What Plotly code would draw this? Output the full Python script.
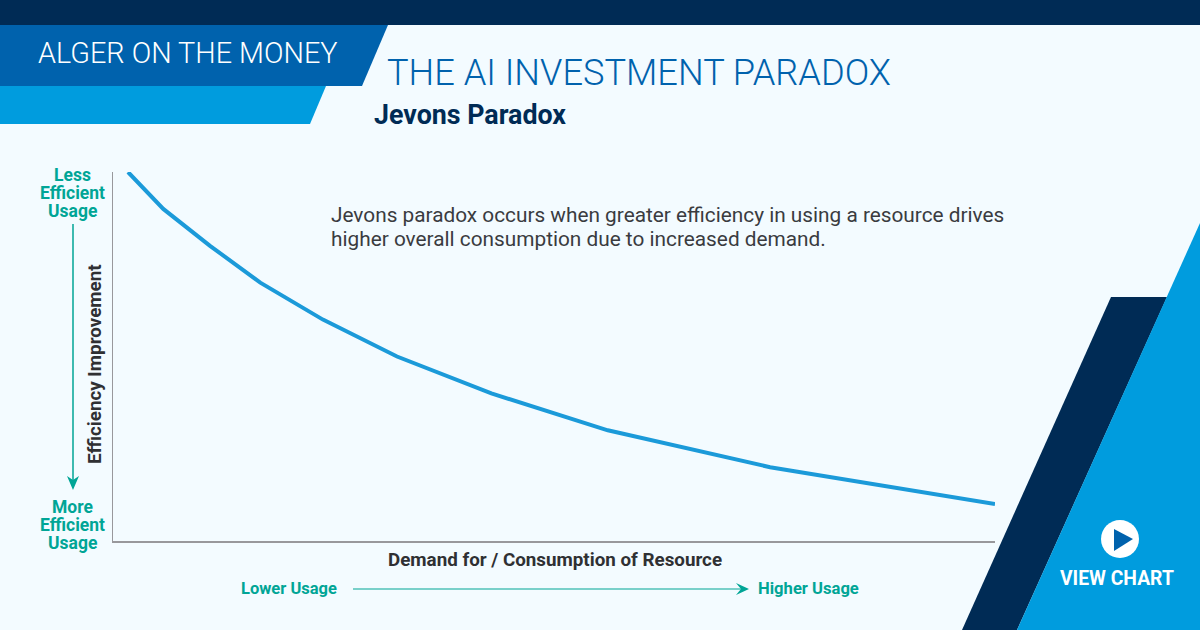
import plotly.graph_objects as go

# Dados da curva (demanda x melhora de eficiencia)
demanda = [1.7, 5.7, 11, 16.7, 23.8, 32.2, 42.9, 56.1, 74.5, 100]
eficiencia = [100, 90, 80, 70, 60, 50, 40, 30, 20, 10]

# Textos
selo = 'ALGER ON THE MONEY'
titulo = 'THE AI INVESTMENT PARADOX'
subtitulo = 'Jevons Paradox'
nota = ['Jevons paradox occurs when greater efficiency in using a resource drives',
        'higher overall consumption due to increased demand.']
topo_y = ['Less', 'Efficient', 'Usage']
base_y = ['More', 'Efficient', 'Usage']

W, H = 1200, 630
NAVY = '#002B55'
AZUL = '#0062AD'
CIANO = '#009CDE'
VERDE = '#00A596'
CINZA = '#98989C'
TEXTO = '#2F3033'
FUNDO = '#F3FBFF'


def px(x):
    return x / W


def py(y):
    return 1 - y / H


def poligono(pontos, cor):
    caminho = 'M ' + ' L '.join(f'{px(x):.5f},{py(y):.5f}' for x, y in pontos) + ' Z'
    return dict(type='path', xref='paper', yref='paper', path=caminho,
                fillcolor=cor, line=dict(width=0), layer='below')


def linha(x0, y0, x1, y1, cor, largura):
    return dict(type='line', xref='paper', yref='paper',
                x0=px(x0), y0=py(y0), x1=px(x1), y1=py(y1),
                line=dict(color=cor, width=largura))


def texto(x, y, txt, size, cor, weight=400, anchor='left', angulo=0):
    return dict(xref='paper', yref='paper', x=px(x), y=py(y), text=txt, showarrow=False,
                xanchor=anchor, yanchor='middle', textangle=angulo,
                font=dict(family='Roboto', size=size, color=cor, weight=weight))


fig = go.Figure()
fig.add_trace(go.Scatter(x=demanda, y=eficiencia, mode='lines',
                         line=dict(color='#1B9AD9', width=4), hoverinfo='skip'))

formas = [
    poligono([(0, 0), (W, 0), (W, 25), (0, 25)], NAVY),
    poligono([(0, 25), (388, 25), (362, 86), (0, 86)], AZUL),
    poligono([(0, 86), (326, 86), (310, 124), (0, 124)], CIANO),
    poligono([(1111, 297), (1167, 297), (1017, 630), (962, 630)], NAVY),
    poligono([(1200, 223), (1200, 630), (1017, 630)], CIANO),
    # setas
    linha(73, 224, 73, 480, VERDE, 1.5),
    poligono([(67, 476), (73, 480), (79, 476), (73, 490)], VERDE),
    linha(353, 589, 742, 589, VERDE, 1.2),
    poligono([(736, 583), (741, 589), (736, 595), (749, 589)], VERDE),
    # botao
    dict(type='circle', xref='paper', yref='paper', x0=px(1101), x1=px(1139), y0=py(558), y1=py(520),
         fillcolor='white', line=dict(width=0)),
    poligono([(1114, 529), (1133, 539), (1114, 551)], AZUL),
]
formas[-1]['layer'] = 'above'

anotacoes = [
    texto(36, 53, selo, 28.8, 'white', 300),
    texto(385, 72, titulo, 36.2, AZUL, 300),
    texto(372, 115, subtitulo, 26.8, NAVY, 700),
    texto(329, 215, nota[0], 20.8, '#3A3B3F'),
    texto(329, 239, nota[1], 20.8, '#3A3B3F'),
    texto(555, 560, 'Demand for / Consumption of Resource', 18.8, TEXTO, 700, 'center'),
    texto(95, 364, 'Efficiency Improvement', 18.8, TEXTO, 700, 'center', -90),
    texto(289, 588, 'Lower Usage', 16.5, VERDE, 700, 'center'),
    texto(808, 588, 'Higher Usage', 16.6, VERDE, 700, 'center'),
    texto(1117, 578, 'VIEW CHART', 19.3, 'white', 700, 'center'),
]
for i, t in enumerate(topo_y):
    anotacoes.append(texto(72, 175 + 18 * i, t, 17.5, VERDE, 700, 'center'))
for i, t in enumerate(base_y):
    anotacoes.append(texto(72, 507 + 18 * i, t, 17.5, VERDE, 700, 'center'))

fig.update_layout(
    width=W, height=H,
    margin=dict(l=0, r=0, t=0, b=0),
    paper_bgcolor=FUNDO,
    plot_bgcolor=FUNDO,
    showlegend=False,
    shapes=formas,
    annotations=anotacoes,
    xaxis=dict(domain=[px(113), px(995)], range=[0, 100], showgrid=False, zeroline=False,
               showticklabels=False, ticks='', showline=True, linecolor=CINZA, linewidth=1.5),
    yaxis=dict(domain=[py(541), py(172)], range=[0, 100], showgrid=False, zeroline=False,
               showticklabels=False, ticks='', showline=True, linecolor=CINZA, linewidth=1),
)
fig.update_traces(cliponaxis=False)

fig.write_html('out.html', config={'displayModeBar': False},
               post_script="document.body.style.margin='0';document.body.style.background='#F3FBFF';")
